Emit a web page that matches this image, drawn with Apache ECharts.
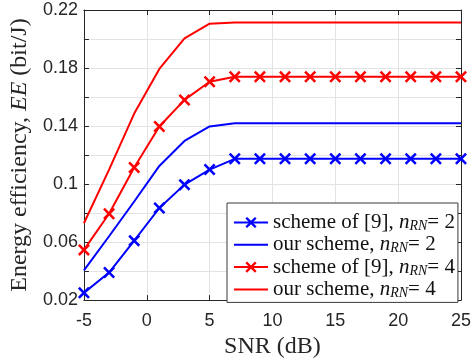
<!DOCTYPE html>
<html>
<head>
<meta charset="utf-8">
<script src="https://cdn.jsdelivr.net/npm/echarts@6/dist/echarts.min.js"></script>
<style>
html,body{margin:0;padding:0;background:#fff;}
#chart{width:474px;height:364px;}
</style>
</head>
<body>
<div id="chart"></div>
<script>
// SNR (dB) sample points
var snr = [-5, -3, -1, 1, 3, 5, 7, 9, 11, 13, 15, 17, 19, 21, 23, 25];
// scheme of [9], n_RN = 2
var scheme9_n2 = [0.025, 0.039, 0.061, 0.0835, 0.0996, 0.110, 0.1174, 0.1174, 0.1174, 0.1174, 0.1174, 0.1174, 0.1174, 0.1174, 0.1174, 0.1174];
// our scheme, n_RN = 2
var ours_n2 = [0.0405, 0.064, 0.088, 0.1125, 0.1297, 0.1397, 0.142, 0.142, 0.142, 0.142, 0.142, 0.142, 0.142, 0.142, 0.142, 0.142];
// scheme of [9], n_RN = 4
var scheme9_n4 = [0.0546, 0.0795, 0.1114, 0.1397, 0.158, 0.1705, 0.174, 0.174, 0.174, 0.174, 0.174, 0.174, 0.174, 0.174, 0.174, 0.174];
// our scheme, n_RN = 4
var ours_n4 = [0.073, 0.110, 0.1486, 0.1794, 0.2004, 0.2106, 0.2113, 0.2113, 0.2113, 0.2113, 0.2113, 0.2113, 0.2113, 0.2113, 0.2113, 0.2113];

var xTicks = [-5, 0, 5, 10, 15, 20, 25];
var yTickLabels = ['0.02', '0.06', '0.1', '0.14', '0.18', '0.22'];

var seriesNames = ['s9n2', 'on2', 's9n4', 'on4'];

function pairs(vals) { return snr.map(function (x, i) { return [x, vals[i]]; }); }

var crossPath = 'path://M0,1.5L1.5,0L5,3.5L8.5,0L10,1.5L6.5,5L10,8.5L8.5,10L5,6.5L1.5,10L0,8.5L3.5,5Z';
var emptyPath = 'path://M0,0L10,10L0,0Z';
var axisCol = '#262626';
var sansFont = '"Liberation Sans", Arial, sans-serif';
var serifFont = '"Liberation Serif", "Times New Roman", serif';

var legendLabels = {
  s9n2: '{a|scheme of [9], }{i|n}{s|RN}{a|= 2}',
  on2: '{a|our scheme, }{i|n}{s|RN}{a|= 2}',
  s9n4: '{a|scheme of [9], }{i|n}{s|RN}{a|= 4}',
  on4: '{a|our scheme, }{i|n}{s|RN}{a|= 4}'
};

function mkSeries(name, vals, color, marker) {
  return {
    name: name,
    type: 'line',
    data: pairs(vals),
    xAxisIndex: 0, yAxisIndex: 0,
    clip: false,
    showSymbol: marker,
    symbol: marker ? crossPath : emptyPath,
    symbolSize: 12,
    lineStyle: { color: color, width: 2 },
    itemStyle: { color: color },
    emphasis: { disabled: true },
    animation: false,
    z: 3
  };
}

var chart = echarts.init(document.getElementById('chart'), null, { renderer: 'canvas' });
var axisCommon = {
  type: 'value',
  axisLine: { show: true, onZero: false, lineStyle: { color: axisCol, width: 1 } },
  axisTick: { show: true, inside: true, length: 5, lineStyle: { color: axisCol, width: 1 } },
  splitLine: { show: false },
  axisLabel: { show: false }
};
var legendTextCol = '#111111';
chart.setOption({
  animation: false,
  backgroundColor: '#ffffff',
  grid: { left: 69, right: 13, top: 10, bottom: 55, containLabel: false },
  xAxis: [
    Object.assign({}, axisCommon, {
      position: 'bottom', min: -5, max: 25, interval: 5,
      splitLine: { show: true, lineStyle: { color: '#e3e3e3', width: 1 } },
      axisLabel: { show: true, color: axisCol, fontFamily: sansFont, fontSize: 18, margin: 12,
        formatter: function (v) { return xTicks.indexOf(v) >= 0 ? String(v) : ''; } },
      name: 'SNR (dB)', nameLocation: 'middle', nameGap: 26,
      nameTextStyle: { fontFamily: serifFont, fontSize: 24, color: axisCol }
    }),
    Object.assign({}, axisCommon, { position: 'top', min: -5, max: 25, interval: 5 })
  ],
  yAxis: [
    Object.assign({}, axisCommon, {
      position: 'left', min: 0.02, max: 0.22, interval: 0.02,
      splitLine: { show: true, lineStyle: { color: '#e3e3e3', width: 1 } },
      axisLabel: { show: true, color: axisCol, fontFamily: sansFont, fontSize: 18, margin: 6,
        formatter: function (v) {
          var s = String(Math.round(v * 100) / 100);
          return yTickLabels.indexOf(s) >= 0 ? s : '';
        } },
      name: '{a|Energy efficiency, }{i|EE}{a| (bit/J)}', nameLocation: 'middle', nameGap: 46, nameRotate: 90,
      nameTextStyle: { color: axisCol, rich: {
        a: { fontFamily: serifFont, fontSize: 24, color: axisCol },
        i: { fontFamily: serifFont, fontSize: 24, fontStyle: 'italic', color: axisCol }
      } }
    }),
    Object.assign({}, axisCommon, { position: 'right', min: 0.02, max: 0.22, interval: 0.02 })
  ],
  legend: {
    show: true,
    orient: 'vertical',
    left: 227, top: 203,
    padding: [9, 3, 2, 6],
    itemWidth: 34, itemHeight: 14, itemGap: 0.8,
    backgroundColor: '#ffffff',
    borderColor: '#3a3a3a', borderWidth: 1,
    selectedMode: false,
    data: seriesNames.map(function (n) { return { name: n }; }),
    formatter: function (n) { return legendLabels[n]; },
    textStyle: {
      color: legendTextCol, fontFamily: serifFont, fontSize: 21,
      rich: {
        a: { fontFamily: serifFont, fontSize: 21, lineHeight: 22, color: legendTextCol },
        i: { fontFamily: serifFont, fontSize: 21, lineHeight: 22, fontStyle: 'italic', color: legendTextCol },
        s: { fontFamily: serifFont, fontSize: 14, lineHeight: 10, verticalAlign: 'bottom', fontStyle: 'italic', color: legendTextCol }
      }
    }
  },
  series: [
    mkSeries('s9n2', scheme9_n2, '#0000ff', true),
    mkSeries('on2', ours_n2, '#0000ff', false),
    mkSeries('s9n4', scheme9_n4, '#ff0000', true),
    mkSeries('on4', ours_n4, '#ff0000', false)
  ]
});
</script>
</body>
</html>
